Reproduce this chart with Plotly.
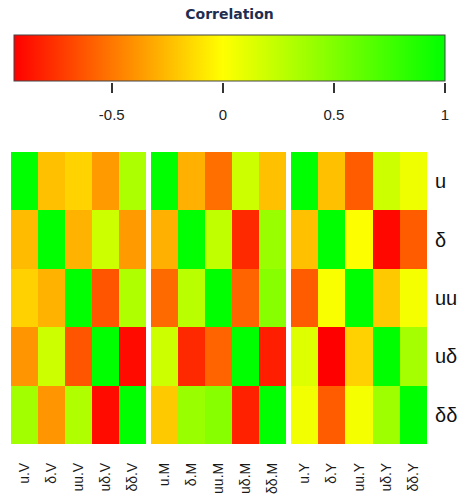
import plotly.graph_objects as go

rows = ["u", "δ", "uu", "uδ", "δδ"]
cols_V = ["u.V", "δ.V", "uu.V", "uδ.V", "δδ.V"]
cols_M = ["u.M", "δ.M", "uu.M", "uδ.M", "δδ.M"]
cols_Y = ["u.Y", "δ.Y", "uu.Y", "uδ.Y", "δδ.Y"]

corr_V = [
    [1.00, -0.23, -0.16, -0.37, 0.33],
    [-0.25, 1.00, -0.28, 0.20, -0.37],
    [-0.17, -0.28, 1.00, -0.63, 0.31],
    [-0.39, 0.20, -0.63, 1.00, -0.90],
    [0.37, -0.39, 0.31, -0.90, 1.00],
]
corr_M = [
    [1.00, -0.29, -0.53, 0.20, -0.23],
    [-0.29, 1.00, 0.25, -0.79, 0.40],
    [-0.55, 0.27, 1.00, -0.57, 0.47],
    [0.20, -0.79, -0.57, 1.00, -0.83],
    [-0.20, 0.40, 0.47, -0.82, 1.00],
]
corr_Y = [
    [1.00, -0.23, -0.60, 0.20, 0.06],
    [-0.23, 1.00, 0.01, -0.91, -0.60],
    [-0.60, 0.02, 1.00, -0.20, 0.04],
    [0.13, -0.94, -0.17, 1.00, 0.35],
    [0.05, -0.60, 0.04, 0.38, 1.00],
]

cbar_ticks = [-0.5, 0, 0.5, 1]
cbar_ticktext = ["-0.5", "0", "0.5", "1"]
zmin, zmax = -0.94, 1.0

W, H = 474, 502
fig = go.Figure()

panels = [(corr_V, cols_V, 11, 146), (corr_M, cols_M, 151, 286), (corr_Y, cols_Y, 291, 427)]
top, bottom = 152, 444
for i, (z, cols, x0, x1) in enumerate(panels):
    n = "" if i == 0 else str(i + 1)
    fig.add_trace(go.Heatmap(z=z, x=cols, y=rows, coloraxis="coloraxis",
                             xaxis="x" + n, yaxis="y" + n, xgap=0, ygap=0,
                             hoverinfo="skip"))
    fig.layout["xaxis" + n] = dict(domain=[x0 / W, x1 / W], anchor="y" + n,
                                   tickangle=-90, showgrid=False, zeroline=False,
                                   ticks="", ticklabelstandoff=15,
                                   tickfont=dict(size=14, color="#1a1a1a"),
                                   showline=False, fixedrange=True)
    fig.layout["yaxis" + n] = dict(domain=[1 - bottom / H, 1 - top / H], anchor="x" + n,
                                   autorange="reversed", showgrid=False, zeroline=False,
                                   showticklabels=(i == 2), side="right", ticks="",
                                   ticklabelstandoff=7,
                                   tickfont=dict(size=20, color="#111"), fixedrange=True)

# colour-bar scale axis (ticks and labels under the bar)
bar_x0, bar_x1, bar_top, bar_bot = 14, 445, 36, 82
fig.add_trace(go.Scatter(x=[], y=[], xaxis="x4", yaxis="y4", showlegend=False))
fig.layout["xaxis4"] = dict(domain=[bar_x0 / W, bar_x1 / W], anchor="y4",
                            range=[zmin, zmax], showgrid=False, zeroline=False,
                            showline=False, ticks="outside", ticklen=10, tickwidth=1.5,
                            tickcolor="#333", tickvals=cbar_ticks, ticktext=cbar_ticktext,
                            ticklabelstandoff=9,
                            tickfont=dict(size=15, color="#222"), fixedrange=True)
fig.layout["yaxis4"] = dict(domain=[1 - bar_bot / H, 1 - bar_top / H], anchor="x4",
                            visible=False, fixedrange=True)

fig.update_layout(
    width=W, height=H,
    margin=dict(l=0, r=0, t=0, b=0, autoexpand=False),
    paper_bgcolor="white", plot_bgcolor="rgba(0,0,0,0)",
    font=dict(family="Liberation Sans, Arial, sans-serif"),
    title=dict(text="<b>Correlation</b>", x=229.5 / W, xanchor="center",
               xref="container", yref="container", y=1 - 14 / H, yanchor="middle",
               font=dict(size=14, color="#1f2d50", family="DejaVu Sans, sans-serif")),
    coloraxis=dict(
        cmin=zmin, cmax=zmax,
        colorscale=[[0, "#ff0000"], [0.485, "#ffff00"], [1, "#00ff00"]],
        colorbar=dict(
            orientation="h", xref="paper", yref="paper",
            x=(bar_x0 + bar_x1) / 2 / W, xanchor="center",
            y=1 - bar_bot / H, yanchor="bottom",
            lenmode="pixels", len=bar_x1 - bar_x0, thickness=bar_bot - bar_top,
            outlinewidth=1, outlinecolor="#444",
            ticks="", showticklabels=False,
            xpad=0, ypad=0,
        ),
    ),
)

fig.write_html("out.html")
